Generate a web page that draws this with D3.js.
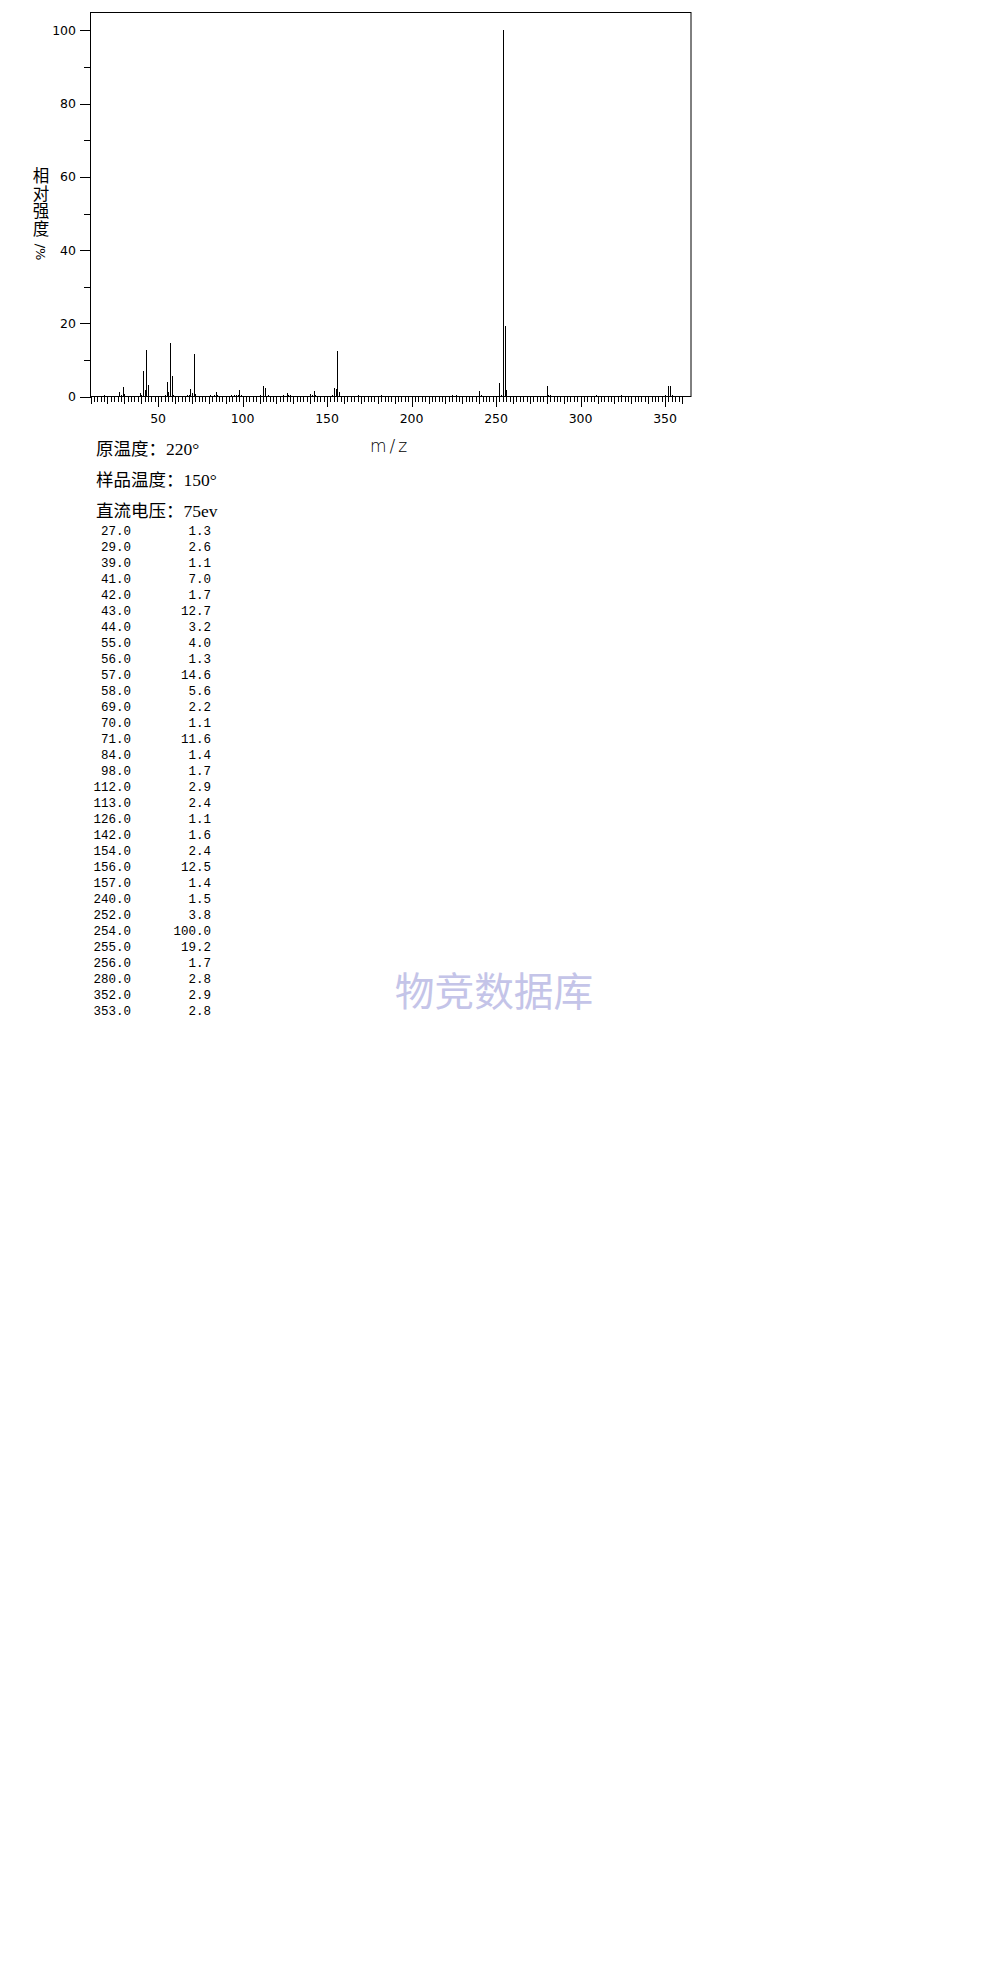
<!DOCTYPE html>
<html><head><meta charset="utf-8">
<script src="https://cdn.jsdelivr.net/npm/d3@7"></script>
<style>body{margin:0;background:#fff}svg{display:block}</style>
</head><body>
<script>
// Spectrum peaks: m/z and relative intensity (%)
const peakMz = [18,27,28,29,30,39,40,41,42,43,44,53,54,55,56,57,58,59,67,68,69,70,71,72,79,81,82,83,84,85,86,91,93,95,96,97,98,99,110,112,113,115,124,126,127,128,140,141,142,143,153,154,155,156,157,168,182,211,224,226,240,241,252,253,254,255,256,280,281,282,309,324,350,352,353,354,355];
const peakInt = [0.6,1.3,0.5,2.6,0.8,1.1,0.4,7.0,1.7,12.7,3.2,0.3,0.4,4.0,1.3,14.6,5.6,0.4,0.6,0.4,2.2,1.1,11.6,0.8,0.3,0.4,0.3,0.5,1.4,0.5,0.3,0.3,0.4,0.4,0.5,0.6,1.7,0.5,0.5,2.9,2.4,0.4,0.4,1.1,0.6,0.4,0.8,0.6,1.6,0.4,0.5,2.4,2.2,12.5,1.4,0.6,0.4,0.3,0.4,0.5,1.5,0.6,3.8,0.6,100.0,19.2,1.7,2.8,0.6,0.4,0.4,0.4,0.5,2.9,2.8,0.6,0.3];
// Listed table
const tableMz = ["27.0","29.0","39.0","41.0","42.0","43.0","44.0","55.0","56.0","57.0","58.0","69.0","70.0","71.0","84.0","98.0","112.0","113.0","126.0","142.0","154.0","156.0","157.0","240.0","252.0","254.0","255.0","256.0","280.0","352.0","353.0"];
const tableInt = ["1.3","2.6","1.1","7.0","1.7","12.7","3.2","4.0","1.3","14.6","5.6","2.2","1.1","11.6","1.4","1.7","2.9","2.4","1.1","1.6","2.4","12.5","1.4","1.5","3.8","100.0","19.2","1.7","2.8","2.9","2.8"];
const xTickLabels = [50,100,150,200,250,300,350];
const yTickLabels = [0,20,40,60,80,100];
const infoLines = ["原温度：220°","样品温度：150°","直流电压：75ev"];
const yTitleChars = ["相","对","强","度"];
const yTitleUnit = "/%";
const xTitle = "m/z";
const watermark = "物竞数据库";

const svg = d3.select("body").append("svg").attr("width",992).attr("height",1984);
const x = d3.scaleLinear().domain([0,365]).range([73.6,73.6+365*1.69]);
const y = d3.scaleLinear().domain([0,100]).range([396.7,30.3]);
const L=90.5, R=691, T=12.5, B=396.5;

// frame
svg.append("rect").attr("x",L).attr("y",T).attr("width",R-L).attr("height",B-T)
  .attr("fill","none").attr("stroke","#000").attr("stroke-width",1);

// peaks
svg.append("g").selectAll("line").data(peakMz).join("line")
  .attr("x1",d=>Math.round(x(d))+0.5).attr("x2",d=>Math.round(x(d))+0.5)
  .attr("y1",B).attr("y2",(d,i)=>y(peakInt[i]))
  .attr("stroke","#000").attr("stroke-width",1).attr("shape-rendering","crispEdges");

// x ticks
const xt = d3.range(10,361,2);
svg.append("g").selectAll("line").data(xt).join("line")
  .attr("x1",d=>Math.round(x(d))+0.5).attr("x2",d=>Math.round(x(d))+0.5)
  .attr("y1",B).attr("y2",d=> B + (d%50===0?10:(d%10===0?7:5)))
  .attr("stroke","#000").attr("shape-rendering","crispEdges");
svg.append("g").selectAll("text").data(xTickLabels).join("text")
  .attr("x",d=>x(d)).attr("y",422.5).attr("text-anchor","middle")
  .attr("font-family","DejaVu Sans").attr("font-size",12.5).text(d=>d);

// y ticks
const yt = d3.range(0,101,10);
svg.append("g").selectAll("line").data(yt).join("line")
  .attr("x1",d=> d%20===0?80:84).attr("x2",L)
  .attr("y1",d=>Math.round(y(d))+0.5).attr("y2",d=>Math.round(y(d))+0.5)
  .attr("stroke","#000").attr("shape-rendering","crispEdges");
svg.append("g").selectAll("text").data(yTickLabels).join("text")
  .attr("x",76).attr("y",d=>y(d)+4.5).attr("text-anchor","end")
  .attr("font-family","DejaVu Sans").attr("font-size",12.5).text(d=>d);

// axis titles
svg.append("text").attr("x",390).attr("y",452).attr("text-anchor","middle")
  .attr("font-family","DejaVu Sans").attr("font-size",17).attr("letter-spacing",3)
  .attr("font-weight",200).text(xTitle);
// vertical CJK title as one text with per-glyph positions
svg.append("text")
  .attr("x",yTitleChars.map(()=>32.75).join(" "))
  .attr("y",yTitleChars.map((d,i)=>182+i*17.5).join(" "))
  .attr("font-family","'Noto Sans CJK SC'").attr("font-size",16.5).text(yTitleChars.join(""));
svg.append("text").attr("transform","translate(36,252) rotate(90)").attr("text-anchor","middle")
  .attr("font-family","DejaVu Sans").attr("font-size",13).text(yTitleUnit);

// info lines
svg.append("g").selectAll("text").data(infoLines).join("text")
  .attr("x",96).attr("y",(d,i)=>455+i*31)
  .attr("font-family","'Liberation Serif','Noto Sans CJK SC'").attr("font-size",17.5).text(d=>d);

// table
const tg = svg.append("g").attr("font-family","'Liberation Mono'").attr("font-size",12.5).attr("fill","#000");
tg.selectAll("text.mz").data(tableMz).join("text").attr("class","mz")
  .attr("x",131).attr("y",(d,i)=>534.5+i*16).attr("text-anchor","end").text(d=>d);
tg.selectAll("text.iv").data(tableInt).join("text").attr("class","iv")
  .attr("x",211).attr("y",(d,i)=>534.5+i*16).attr("text-anchor","end").text(d=>d);

// watermark
svg.append("text").attr("x",494).attr("y",1006).attr("text-anchor","middle")
  .attr("font-family","'Noto Sans CJK SC'").attr("font-size",39.7).attr("fill","#c4c4e8").text(watermark);
</script>
</body></html>
